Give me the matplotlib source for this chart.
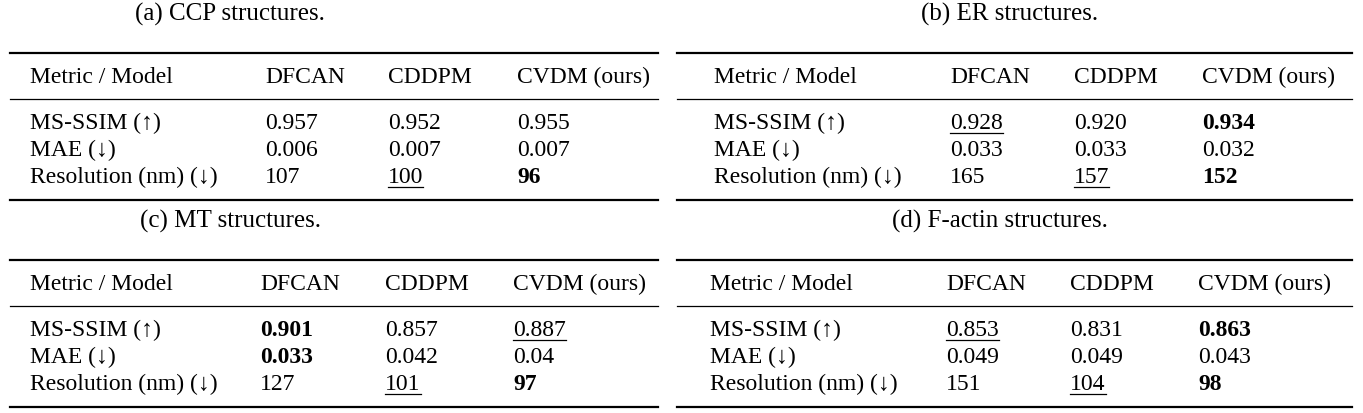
import matplotlib
matplotlib.use("Agg")
import matplotlib.pyplot as plt

plt.rcParams['font.family'] = ['Liberation Serif', 'DejaVu Serif']

W, H = 1363, 413
titles = ["(a) CCP structures.", "(b) ER structures.", "(c) MT structures.", "(d) F-actin structures."]
header = ["Metric / Model", "DFCAN", "CDDPM", "CVDM (ours)"]
metrics = ["MS-SSIM (\u2191)", "MAE (\u2193)", "Resolution (nm) (\u2193)"]
ccp = [["0.957", "0.952", "0.955"], ["0.006", "0.007", "0.007"], ["107", "100", "96"]]
er = [["0.928", "0.920", "0.934"], ["0.033", "0.033", "0.032"], ["165", "157", "152"]]
mt = [["0.901", "0.857", "0.887"], ["0.033", "0.042", "0.04"], ["127", "101", "97"]]
factin = [["0.853", "0.831", "0.863"], ["0.049", "0.049", "0.043"], ["151", "104", "98"]]
# (row, col) of bold and underlined cells per panel
bold = [[(2, 2)], [(0, 2), (2, 2)], [(0, 0), (1, 0), (2, 2)], [(0, 2), (2, 2)]]
under = [[(2, 1)], [(0, 0), (2, 1)], [(0, 2), (2, 1)], [(0, 0), (2, 1)]]
tables = [ccp, er, mt, factin]

# panel geometry in pixels: x0, x1 of rules, column x positions, title x, y offset
panels = [
    (10, 658, [30, 265, 388, 517], 230, 0),
    (677, 1352, [714, 950, 1074, 1202], 1010, 0),
    (10, 658, [30, 260, 385, 513], 230, 207),
    (677, 1352, [710, 946, 1070, 1198], 1000, 207),
]

fig = plt.figure(figsize=(W / 100, H / 100), dpi=100)
ax = fig.add_axes([0, 0, 1, 1])
ax.set_xlim(0, W)
ax.set_ylim(H, 0)
ax.axis('off')

fs = 17
underlined = []
for p, (x0, x1, cols, tx, dy) in enumerate(panels):
    ax.text(tx, 21 + dy, titles[p], ha='center', va='baseline', fontsize=18)
    ax.plot([x0, x1], [53 + dy, 53 + dy], color='black', lw=1.6)
    ax.plot([x0, x1], [99 + dy, 99 + dy], color='black', lw=0.9)
    ax.plot([x0, x1], [200 + dy, 200 + dy], color='black', lw=1.6)
    for c, h in enumerate(header):
        ax.text(cols[c], 83 + dy, h, ha='left', va='baseline', fontsize=fs)
    for r, m in enumerate(metrics):
        y = 129 + 27 * r + dy
        ax.text(cols[0], y, m, ha='left', va='baseline', fontsize=fs)
        for c, v in enumerate(tables[p][r]):
            t = ax.text(cols[c + 1], y, v, ha='left', va='baseline', fontsize=fs,
                        fontweight='bold' if (r, c) in bold[p] else 'normal')
            if (r, c) in under[p]:
                underlined.append((t, y))

fig.canvas.draw()
r = fig.canvas.get_renderer()
for t, y in underlined:
    bb = t.get_window_extent(r)
    ax.plot([bb.x0, bb.x1], [y + 4, y + 4], color='black', lw=0.9)

fig.savefig("out.png", dpi=100)
